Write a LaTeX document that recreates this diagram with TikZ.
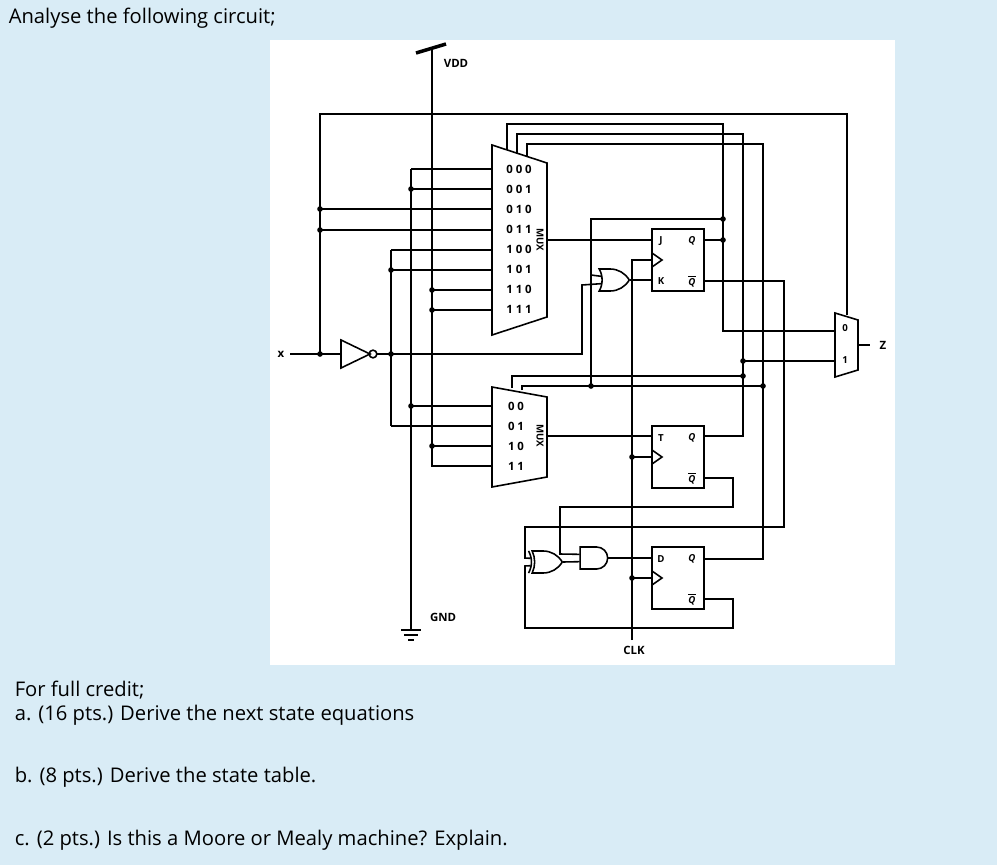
\documentclass[tikz,border=0pt]{standalone}
\usepackage{fontspec}
\setmainfont{Open Sans}
\usetikzlibrary{shapes.gates.logic.US}
\definecolor{bgblue}{HTML}{D9ECF6}
\begin{document}
\begin{tikzpicture}[x=0.02cm,y=-0.02cm,line width=0.9pt,
  dot/.style={circle,fill,inner sep=0pt,minimum size=3.2pt},
  lbl/.style={font=\fontsize{5.5}{6}\selectfont\bfseries,inner sep=0pt},
  code/.style={inner sep=0pt,font=\fontsize{6.5}{7}\selectfont\bfseries\addfontfeature{LetterSpace=25}},
  body/.style={font=\fontsize{11.5}{13}\selectfont,anchor=west,inner sep=0pt},
  gate/.style={draw,logic gate inputs=nn,minimum width=0.36cm,minimum height=0.4cm,scale=0.72}]
\fill[bgblue] (0,0) rectangle (997,865);
\fill[white] (270,40) rectangle (895,665);
\useasboundingbox (0,0) rectangle (997,865);

% texts
\node[body] (t0) at (8,18) {Analyse the following circuit;};
\node[body] (t1) at (14,690) {For full credit;};
\node[body] (t2) at (14,715) {a. (16 pts.) Derive the next state equations};
\node[body] (t3) at (14,777) {b. (8 pts.) Derive the state table.};
\node[body] (t4) at (14,840) {c. (2 pts.) Is this a Moore or Mealy machine? Explain.};

% muxes
\draw (492,145) -- (547,163) -- (547,317) -- (492,335) -- cycle;
\draw (492,387) -- (547,397) -- (547,477) -- (492,487) -- cycle;
\draw (835,313) -- (858,320) -- (858,370) -- (835,377) -- cycle;
\foreach \t [count=\i from 0] in {000,001,010,011,100,101,110,111}
  \node[code] (m\i) at (519,169+20.1*\i) {\t};
\foreach \t [count=\i from 0] in {00,01,10,11}
  \node[code] (n\i) at (516,406+20*\i) {\t};
\node[lbl,rotate=-90] (muxa) at (540,240) {MUX};
\node[lbl,rotate=-90] (muxb) at (540,436) {MUX};
\node[lbl] (o0) at (845,328) {0};
\node[lbl] (o1) at (845,360) {1};

% flip-flops
\draw (652,229) rectangle (704,291);
\draw (652,426) rectangle (704,488);
\draw (652,547) rectangle (704,609);
\foreach \y/\a/\b in {229/J/K,426/T/{},547/D/{}}{
  \node[lbl] at (661,\y+12) {\a};
  \node[lbl] at (661,\y+52) {\b};
  \node[lbl] at (692,\y+12) {\textit{Q}};
  \node[lbl] at (692,\y+52) {$\overline{\mbox{\textit{Q}}}$};
  \draw (652,\y+24) -- (662,\y+31) -- (652,\y+38);
}

% gates
\node[or gate US,gate,minimum height=0.44cm] (org) at (612,280) {};
\node[and gate US,gate] (andg) at (593,558) {};
\node[xor gate US,gate] (xorg) at (545,562) {};
\draw (341,340) -- (370,354) -- (341,368) -- cycle;
\draw (373,354) circle (2.2pt);

% supplies
\draw[line width=2pt] (416,53) -- (446,44);
\draw (432,48) -- (432,466) -- (492,466);
\node[lbl,font=\fontsize{6.5}{7}\selectfont\bfseries] (vdd) at (456,63) {VDD};
\draw (411,169) -- (492,169);
\draw (411,169) -- (411,630);
\draw (401,630) -- (421,630) (404,635) -- (418,635) (408,640) -- (414,640);
\node[lbl,font=\fontsize{6.5}{7}\selectfont\bfseries] (gnd) at (443,617) {GND};
\node[lbl,font=\fontsize{6.5}{7}\selectfont\bfseries] (clk) at (634,650) {CLK};
\node[lbl,font=\fontsize{6.5}{7}\selectfont\bfseries] (xin) at (281,354) {x};
\node[lbl,font=\fontsize{6.5}{7}\selectfont\bfseries] (zout) at (883,345) {Z};

% mux data inputs
\draw (411,189) -- (492,189);
\draw (320,209) -- (492,209) (320,230) -- (492,230);
\draw (391,250) -- (492,250) (391,270) -- (492,270);
\draw (432,290) -- (492,290) (432,310) -- (492,310);
\draw (411,406) -- (492,406) (391,426) -- (492,426) (432,446) -- (492,446);
\draw (391,250) -- (391,426);
% x input and inverter
\draw (290,354) -- (341,354);
\draw (376,354) -- (582,354) -- (582,285) -- (org.input 2);
\draw (320,354) -- (320,114) -- (847,114) -- (847,315);
% top mux selects
\draw (507,150) -- (507,124) -- (723,124) -- (723,331) -- (835,331);
\draw (517,153) -- (517,134) -- (743,134) -- (743,436) -- (704,436);
\draw (527,156) -- (527,144) -- (763,144) -- (763,559) -- (704,559);
\draw (743,361) -- (835,361);
\draw (512,388) -- (512,376) -- (743,376);
\draw (522,390) -- (522,386) -- (763,386);
\draw (723,219) -- (591,219) -- (591,386);
\draw (591,275) -- (org.input 1);
\draw (704,240) -- (723,240);
% outputs
\draw (547,240) -- (652,240);
\draw (org.output) -- (652,280);
\draw (547,436) -- (652,436);
\draw (858,345) -- (870,345);
% clock
\draw (632,640) -- (632,260) -- (652,260);
\draw (632,457) -- (652,457) (632,578) -- (652,578);
% JK Qbar to XOR
\draw (704,281) -- (784,281) -- (784,527) -- (525,527) -- (525,558) -- (xorg.input 1);
\draw (xorg.input 2) -- (525,566) -- (525,628) -- (733,628) -- (733,599) -- (704,599);
\draw (704,478) -- (733,478) -- (733,507) -- (560,507) -- (560,554) -- (andg.input 1);
\draw (xorg.output) -- (andg.input 2);
\draw (andg.output) -- (652,558);

% junctions
\foreach \p in {(411,189),(320,209),(320,230),(391,270),(432,290),(432,310),
  (320,354),(391,354),(411,406),(432,446),(723,219),(723,240),(743,361),
  (743,376),(763,386),(591,386),(632,457),(632,578)}
  \node[dot] at \p {};
\end{tikzpicture}
\end{document}
